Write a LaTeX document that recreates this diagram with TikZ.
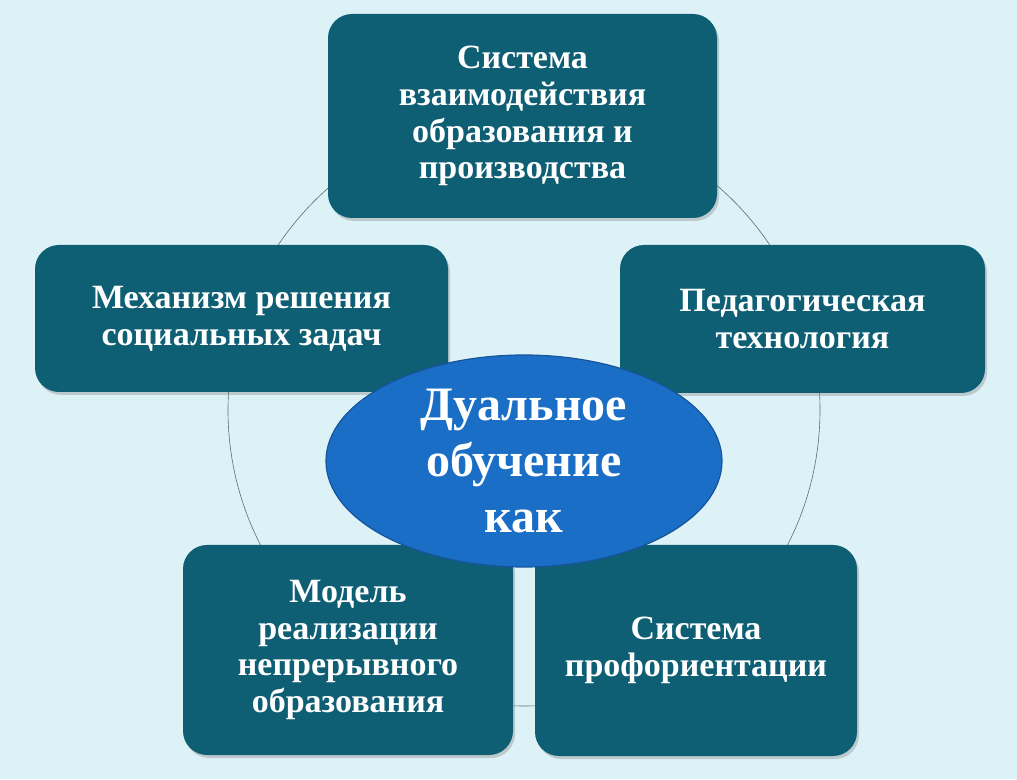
\documentclass[tikz,border=0pt]{standalone}
\usepackage{fontspec}
\setmainfont{Liberation Serif}
\usetikzlibrary{shapes.geometric,shadows}
\definecolor{bgblue}{HTML}{DDF2F7}
\definecolor{boxteal}{HTML}{0E5F74}
\definecolor{midblue}{HTML}{1B6EC5}
\definecolor{midline}{HTML}{15549A}
\definecolor{ringgray}{HTML}{5A6E72}
\begin{document}
\begin{tikzpicture}[x=1pt,y=1pt,
  main node/.style={rectangle,rounded corners=24pt,fill=boxteal,text=white,
    font=\bfseries\fontsize{34}{36.8}\selectfont,align=center,inner sep=0pt,
    drop shadow={opacity=0.35,shadow xshift=2pt,shadow yshift=-3pt}},
  hub node/.style={ellipse,draw=midline,line width=1.2pt,fill=midblue,text=white,
    font=\bfseries\fontsize{48}{56}\selectfont,align=center,inner sep=0pt,
    minimum width=396pt,minimum height=212pt}]

  \fill[bgblue] (0,0) rectangle (1017,779);
  \useasboundingbox (0,0) rectangle (1017,779);

  \draw[ringgray,line width=0.6pt] (524,369) circle (296pt);

  \node[main node,minimum width=389pt,minimum height=204pt] (1) at (522.5,663)
    {Система\\взаимодействия\\образования и\\производства};
  \node[main node,minimum width=413pt,minimum height=147pt] (2) at (241.5,460.5)
    {Механизм решения\\социальных задач};
  \node[main node,minimum width=365pt,minimum height=148pt] (3) at (802.5,460)
    {Педагогическая\\технология};
  \node[main node,minimum width=330pt,minimum height=210pt] (4) at (348,129)
    {Модель\\реализации\\непрерывного\\образования};
  \node[main node,minimum width=322pt,minimum height=211pt] (5) at (696,128.5)
    {Система\\профориентации};

  \node[hub node] (0) at (524,318) {Дуальное\\обучение\\как};
\end{tikzpicture}
\end{document}
